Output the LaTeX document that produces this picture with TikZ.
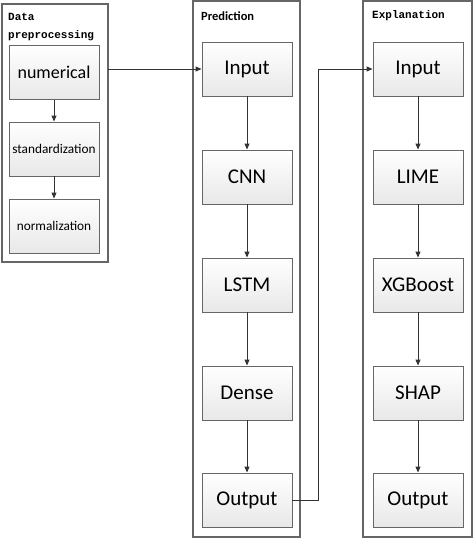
\documentclass[tikz,border=0pt]{standalone}
\usepackage{fontspec}
\setmainfont{Carlito}
\newfontfamily\monofont{Liberation Mono}
\usetikzlibrary{arrows.meta}
\begin{document}
\begin{tikzpicture}[x=1pt,y=-1pt,
    stage/.style={draw=gray!80!black,line width=1.1pt},
    stepbox/.style={draw=gray!80!black,line width=0.9pt,top color=white,bottom color=gray!18,
      minimum width=90pt,minimum height=54pt,inner sep=0pt},
    flow/.style={draw=gray!40!black,line width=0.9pt,-{Triangle[length=6pt,width=5pt]}}]
  \useasboundingbox (0,0) rectangle (474,539);
  % stages
  \draw[stage] (2,4) rectangle (108,262);
  \draw[stage] (193,1) rectangle (300,537);
  \draw[stage] (363,1) rectangle (472,537);
  \node[anchor=north west,align=left,inner sep=0pt,font=\monofont\bfseries\fontsize{11}{18}\selectfont]
    (pretitle) at (8,13) {Data\\preprocessing};
  \node[anchor=west,inner sep=0pt,font=\bfseries\fontsize{12.5}{14}\selectfont]
    (predtitle) at (201,16) {Prediction};
  \node[anchor=west,inner sep=0pt,font=\monofont\bfseries\fontsize{11}{14}\selectfont]
    (expltitle) at (372,16) {Explanation};
  % data preprocessing
  \draw
    (54,72.5) node[stepbox,font=\fontsize{18}{20}\selectfont] (num){numerical}
    (54,149) node[stepbox,font=\fontsize{13.3}{15}\selectfont] (std){standardization}
    (54,226) node[stepbox,font=\fontsize{13.3}{15}\selectfont] (nrm){normalization};
  % prediction
  \draw[font=\fontsize{21}{24}\selectfont]
    (247,69) node[stepbox] (pin){Input}
    (247,177) node[stepbox] (cnn){CNN}
    (247,285) node[stepbox] (lstm){LSTM}
    (247,393) node[stepbox] (dense){Dense}
    (247,500) node[stepbox] (pout){Output};
  % explanation
  \draw[font=\fontsize{21}{24}\selectfont]
    (418,69) node[stepbox] (ein){Input}
    (418,177) node[stepbox] (lime){LIME}
    (418,285) node[stepbox] (xgb){XGBoost}
    (418,393) node[stepbox] (shap){SHAP}
    (418,500) node[stepbox] (eout){Output};
  \coordinate (preedge) at (108,69);
  \coordinate (turn) at (318,0);
  \begin{scope}[flow]
    \draw (num) to (std);
    \draw (std) to (nrm);
    \draw (preedge) to (pin);
    \draw (pin) to (cnn);
    \draw (cnn) to (lstm);
    \draw (lstm) to (dense);
    \draw (dense) to (pout);
    \draw (pout.east) -| (turn |- pout.east) |- (ein.west);
    \draw (ein) to (lime);
    \draw (lime) to (xgb);
    \draw (xgb) to (shap);
    \draw (shap) to (eout);
  \end{scope}
\end{tikzpicture}
\end{document}
